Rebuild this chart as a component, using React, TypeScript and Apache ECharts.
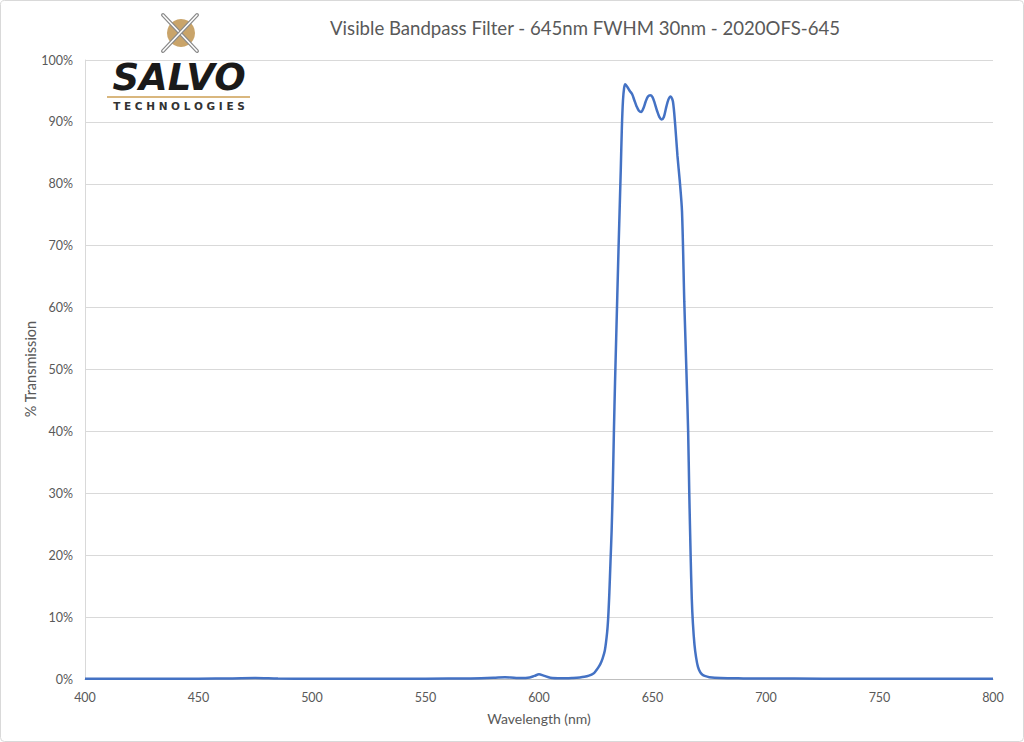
import React, { useEffect, useRef } from "react";
import * as echarts from "echarts";

const wavelengths = [
  400, 425, 450, 465, 475, 485, 500, 525, 550, 570, 580, 585, 590, 595, 598, 600, 602, 605, 610, 615, 618,
  620, 622, 624, 625, 626, 627, 628, 629, 630, 630.5, 631, 631.5, 632, 632.5, 633, 633.5, 634, 635, 636,
  636.5, 637, 637.5, 638, 639, 640, 641, 642, 643, 644, 645, 646, 647, 648, 649, 650, 651, 652, 653, 654,
  655, 656, 657, 658, 659, 660, 661, 662, 663, 664, 664.5, 665, 665.7, 666.2, 666.8, 667.3, 667.8, 668.5,
  669.2, 670, 671, 672, 673, 675, 680, 690, 700, 725, 750, 775, 800,
];

const transmission = [
  0.05, 0.05, 0.05, 0.1, 0.15, 0.08, 0.05, 0.05, 0.05, 0.1, 0.2, 0.3, 0.15, 0.2, 0.5, 0.75, 0.55, 0.2, 0.12, 0.18, 0.25,
  0.35, 0.55, 0.9, 1.3, 1.8, 2.4, 3.3, 4.6, 7.5, 10, 14, 19, 24, 31, 40, 48, 55, 69, 82,
  89, 93.5, 95.5, 96.1, 95.6, 95.0, 94.5, 93.5, 92.5, 91.8, 91.6, 92.2, 93.3, 94.1, 94.3, 94.0, 93.0, 91.8, 90.8, 90.4,
  90.8, 92.3, 93.6, 94.1, 93.3, 89.5, 84.5, 80.5, 75.5, 61, 55, 49, 40, 30, 20, 13, 9, 5.5,
  3.5, 2.0, 1.1, 0.7, 0.5, 0.3, 0.15, 0.1, 0.08, 0.05, 0.05, 0.05, 0.05,
];

const titleText = "Visible Bandpass Filter - 645nm FWHM 30nm - 2020OFS-645";
const xAxisName = "Wavelength (nm)";
const yAxisName = "% Transmission";

export default function App() {
  const ref = useRef<HTMLDivElement>(null);
  useEffect(() => {
    document.body.style.margin = "0";
    if (!ref.current) return;
    const chart = echarts.init(ref.current, null, { renderer: "svg" });
    const font = "Lato, 'Open Sans', sans-serif";
    const data = wavelengths.map((w, i) => [w, transmission[i]]);
    chart.setOption({
      animation: false,
      backgroundColor: "#fff",
      textStyle: { fontFamily: font },
      grid: { left: 85, right: 31, top: 60, bottom: 63 },
      xAxis: {
        type: "value",
        min: 400,
        max: 800,
        interval: 50,
        name: xAxisName,
        nameLocation: "middle",
        nameGap: 32,
        nameTextStyle: { color: "#595959", fontSize: 14, fontFamily: font },
        axisLine: { show: true, lineStyle: { color: "#bfbfbf", width: 1 } },
        axisTick: { show: false },
        splitLine: { show: false },
        axisLabel: { color: "#595959", fontSize: 12.5, fontFamily: font, margin: 12 },
      },
      yAxis: {
        type: "value",
        min: 0,
        max: 100,
        interval: 10,
        axisLine: { show: true, lineStyle: { color: "#d9d9d9", width: 1 } },
        axisTick: { show: false },
        splitLine: { show: true, lineStyle: { color: "#d9d9d9", width: 1 } },
        axisLabel: { color: "#595959", fontSize: 12.5, fontFamily: font, margin: 12, formatter: "{value}%" },
      },
      series: [
        {
          type: "line",
          data,
          smooth: 0.3,
          showSymbol: false,
          lineStyle: { color: "#4472C4", width: 2.5 },
          z: 3,
        },
      ],
      graphic: [
        {
          type: "rect",
          shape: { x: 0.5, y: 0.5, width: 1023, height: 741, r: 4 },
          style: { fill: "none", stroke: "#d9d9d9", lineWidth: 1 },
          silent: true,
        },
        {
          type: "text",
          x: 585,
          y: 28,
          style: {
            text: titleText,
            fill: "#595959",
            fontSize: 18.6,
            fontFamily: font,
            align: "center",
            verticalAlign: "middle",
          },
        },
        {
          type: "text",
          x: 30,
          y: 369,
          rotation: Math.PI / 2,
          style: {
            text: yAxisName,
            fill: "#595959",
            fontSize: 14.5,
            fontFamily: font,
            align: "center",
            verticalAlign: "middle",
          },
        },
        {
          type: "circle",
          shape: { cx: 181, cy: 33, r: 14 },
          style: { fill: "#C9A46A" },
        },
        {
          type: "line",
          shape: { x1: 163, y1: 15, x2: 197, y2: 51 },
          style: { stroke: "#8a8a8a", lineWidth: 4, lineCap: "round" },
        },
        {
          type: "line",
          shape: { x1: 163, y1: 15, x2: 197, y2: 51 },
          style: { stroke: "#ffffff", lineWidth: 1.5, lineCap: "round" },
        },
        {
          type: "line",
          shape: { x1: 197, y1: 15, x2: 163, y2: 51 },
          style: { stroke: "#8a8a8a", lineWidth: 4, lineCap: "round" },
        },
        {
          type: "line",
          shape: { x1: 197, y1: 15, x2: 163, y2: 51 },
          style: { stroke: "#ffffff", lineWidth: 1.5, lineCap: "round" },
        },
        {
          type: "text",
          x: 179,
          y: 77,
          style: {
            text: "SALVO",
            fill: "#1a1a1a",
            fontSize: 37,
            fontWeight: 900,
            fontStyle: "italic",
            fontFamily: "'DejaVu Sans', sans-serif",
            align: "center",
            verticalAlign: "middle",
          },
        },
        {
          type: "rect",
          shape: { x: 107, y: 96, width: 143, height: 2 },
          style: { fill: "#D9B77E" },
        },
        {
          type: "text",
          x: 179,
          y: 106,
          style: {
            text: "T E C H N O L O G I E S",
            fill: "#333333",
            fontSize: 10.5,
            fontWeight: "bold",
            fontFamily: "'DejaVu Sans', sans-serif",
            align: "center",
            verticalAlign: "middle",
          },
        },
      ],
    });
    return () => chart.dispose();
  }, []);
  return <div ref={ref} style={{ width: 1024, height: 742 }} />;
}
